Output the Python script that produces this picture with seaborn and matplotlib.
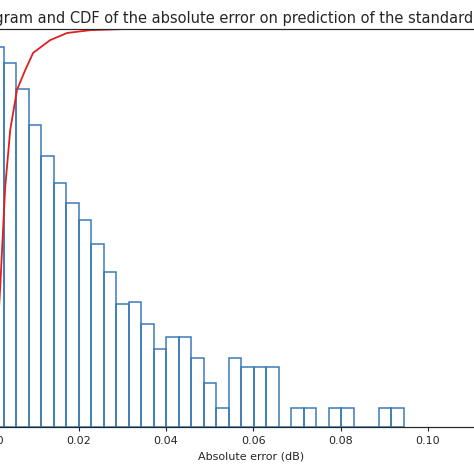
import numpy as np
import pandas as pd
import matplotlib.pyplot as plt
import seaborn as sns
sns.set_style('white')

# histogram of absolute error (relative heights)
bin_width = 0.002864
bin_heights = [380, 364, 338, 302, 271, 244, 224, 207, 183, 155, 123, 125, 103, 78,
               90, 90, 69, 44, 19, 69, 60, 60, 60, 0, 19, 19, 0, 19, 19, 0, 0, 19, 19]
n_bins = len(bin_heights)
bin_centers = (np.arange(n_bins) + 0.5) * bin_width
hist_df = pd.DataFrame({"err": bin_centers, "h": bin_heights})

# CDF curve points
cdf_x = [0.0, 0.0010, 0.00206, 0.0032, 0.00435, 0.0059, 0.0078, 0.0096, 0.0135, 0.0174, 0.0227, 0.031]
cdf_y = [0.0, 0.15, 0.352, 0.603, 0.746, 0.847, 0.897, 0.94, 0.972, 0.99, 0.997, 1.0]

fig = plt.figure(figsize=(4.74, 4.74), dpi=100)
ax = fig.add_axes([-0.0738, 0.0992, 1.207, 0.8397])
sns.histplot(data=hist_df, x="err", weights="h", binwidth=bin_width,
             binrange=(0, n_bins * bin_width), fill=False,
             color='#3a7ab8', linewidth=1.1, ax=ax)
ax.set_xlim(-0.006, 0.125)
ax.set_ylim(0, 398)
ax.set_xticks([0.0, 0.02, 0.04, 0.06, 0.08, 0.10])
ax.set_xticklabels(['0.00', '0.02', '0.04', '0.06', '0.08', '0.10'])
ax.tick_params(axis='x', labelsize=8, length=3, direction='out', bottom=True)
ax.set_xlabel("Absolute error (dB)", fontsize=8)
ax.set_ylabel("")

ax2 = ax.twinx()
sns.lineplot(x=cdf_x, y=cdf_y, color='#e02020', linewidth=1.3, ax=ax2)
ax2.set_ylim(0, 1.0)
ax2.set_yticks([])

ax.set_title("Histogram and CDF of the absolute error on prediction of the standard deviation",
             fontsize=10.5, pad=4)

plt.savefig("out.png", dpi=100)
